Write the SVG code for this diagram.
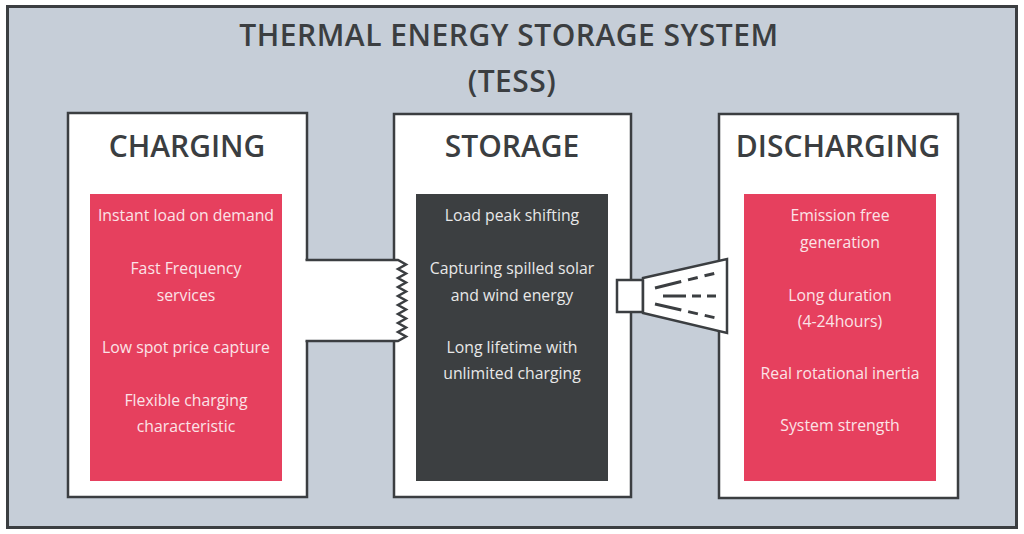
<svg xmlns="http://www.w3.org/2000/svg" width="1024" height="534" viewBox="0 0 1024 534">
<style>
.frame{fill:#c6ced8;stroke:#3b3e41;stroke-width:3}
.box{fill:#ffffff;stroke:#3b3e41;stroke-width:2.5}
.red{fill:#e6405e}
.dark{fill:#3c3f41}
.title{font-family:"Open Sans","Liberation Sans",sans-serif;font-size:30px;font-weight:600;fill:#3b3e41;text-anchor:middle;letter-spacing:0.5px}
.head{font-family:"Open Sans","Liberation Sans",sans-serif;font-size:30px;font-weight:600;fill:#3b3e41;text-anchor:middle}
.body{font-family:"Open Sans","Liberation Sans",sans-serif;font-size:15.8px;fill:#fbe3e7;text-anchor:middle}
.bodyd{font-family:"Open Sans","Liberation Sans",sans-serif;font-size:15.8px;fill:#e8e8e8;text-anchor:middle}
.conn{fill:#ffffff;stroke:#3b3e41;stroke-width:2.5;stroke-linejoin:miter}
.ray{stroke:#3b3e41;stroke-width:3;fill:none}
</style>
<rect class="frame" x="7.5" y="6.5" width="1009" height="521"/>
<g id="title">
<text class="title" x="509" y="46">THERMAL ENERGY STORAGE SYSTEM</text>
<text class="title" x="512" y="92">(TESS)</text>
</g>
<g id="charging">
<rect class="box" x="68" y="113" width="239" height="384"/>
<text class="head" x="187" y="157">CHARGING</text>
<rect class="red" x="90" y="194" width="192" height="287"/>
<text class="body" x="186" y="221">Instant load on demand</text>
<text class="body" x="186" y="274">Fast Frequency</text>
<text class="body" x="186" y="301">services</text>
<text class="body" x="186" y="353">Low spot price capture</text>
<text class="body" x="186" y="406">Flexible charging</text>
<text class="body" x="186" y="432">characteristic</text>
</g>
<g id="storage">
<rect class="box" x="394" y="114" width="237" height="383"/>
<text class="head" x="512" y="157">STORAGE</text>
<rect class="dark" x="416" y="194" width="192" height="287"/>
<text class="bodyd" x="512" y="221">Load peak shifting</text>
<text class="bodyd" x="512" y="274">Capturing spilled solar</text>
<text class="bodyd" x="512" y="301">and wind energy</text>
<text class="bodyd" x="512" y="353">Long lifetime with</text>
<text class="bodyd" x="512" y="379">unlimited charging</text>
</g>
<g id="discharging">
<rect class="box" x="719" y="114" width="239" height="384"/>
<text class="head" x="838" y="157">DISCHARGING</text>
<rect class="red" x="744" y="194" width="192" height="287"/>
<text class="body" x="840" y="221">Emission free</text>
<text class="body" x="840" y="248">generation</text>
<text class="body" x="840" y="301">Long duration</text>
<text class="body" x="840" y="327">(4-24hours)</text>
<text class="body" x="840" y="379">Real rotational inertia</text>
<text class="body" x="840" y="431">System strength</text>
</g>
<g id="connectors">
<g id="charge-link">
<rect x="304" y="260" width="98" height="81" fill="#ffffff"/>
<path class="conn" d="M305.5 260 H398 L406 264.5 L398 269 L406 273.5 L398 278 L406 282.5 L398 287 L406 291.5 L398 296 L406 300.5 L398 305 L406 309.5 L398 314 L406 318.5 L398 323 L406 327.5 L398 332 L406 336.5 L398 341 H305.5" style="fill:none"/>
</g>
<g id="discharge-link">
<rect class="conn" x="617" y="280" width="26" height="32"/>
<polygon class="conn" points="643,278 727,259 727,333 643,313"/>
<path class="ray" d="M655 288 L716 273" stroke-dasharray="27 7 10 7 10"/>
<path class="ray" d="M663 296 L716 296" stroke-dasharray="23 6 9 6 9"/>
<path class="ray" d="M655 304 L716 318" stroke-dasharray="27 7 10 7 10"/>
</g>
</g>
</svg>
